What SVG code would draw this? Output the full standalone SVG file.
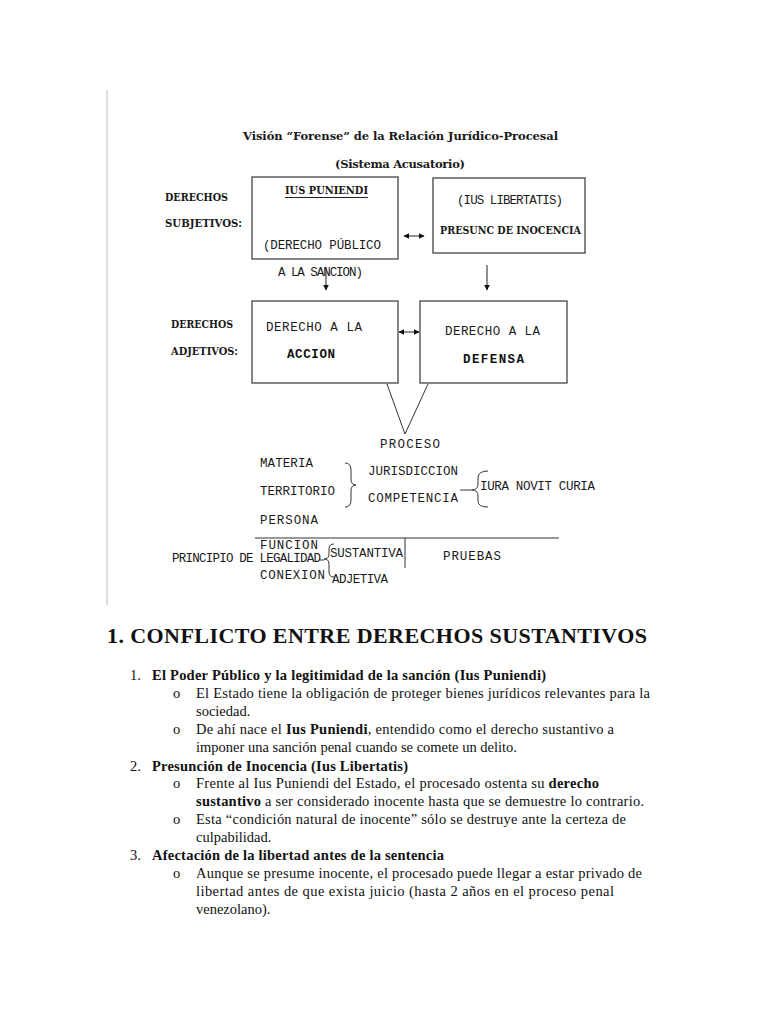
<svg xmlns="http://www.w3.org/2000/svg" width="768" height="1024" viewBox="0 0 768 1024">
<defs>
<marker id="ah" viewBox="0 0 10 10" refX="9" refY="5" markerWidth="6" markerHeight="6" orient="auto-start-reverse" markerUnits="userSpaceOnUse">
<path d="M0,0 L10,5 L0,10 z" fill="#111"/>
</marker>
<style>
.bx{fill:#fff;stroke:#444;stroke-width:1.3}
.ln{fill:none;stroke:#333;stroke-width:1}
.cn{fill:none;stroke:#222;stroke-width:1}
.hd{font-family:"DejaVu Serif","Liberation Serif",serif;font-weight:bold;font-size:11.5px;fill:#1a1a1a}
.lb{font-family:"DejaVu Serif","Liberation Serif",serif;font-weight:bold;font-size:10.5px;fill:#1a1a1a}
.mn{font-family:"Liberation Mono","DejaVu Sans Mono",monospace;font-size:12.5px;fill:#1a1a1a}
.mb{font-family:"Liberation Mono","DejaVu Sans Mono",monospace;font-size:12.5px;font-weight:bold;fill:#111}
.tx{font-family:"Liberation Serif","Times New Roman",serif;font-size:14.5px;fill:#111}
.h1{font-family:"Liberation Serif","Times New Roman",serif;font-size:22px;font-weight:bold;fill:#111}
.b{font-weight:bold}
</style>
</defs>
<rect width="768" height="1024" fill="#fff"/>
<line x1="107" y1="90" x2="107" y2="605" stroke="#dcdcdc" stroke-width="2"/>

<g id="title">
<text class="hd" x="243" y="140" textLength="315">Visión “Forense” de la Relación Jurídico-Procesal</text>
<text class="hd" x="335" y="168" textLength="130">(Sistema Acusatorio)</text>
</g>

<g id="lbl-subjetivos">
<text class="lb" x="165" y="201" textLength="63" lengthAdjust="spacingAndGlyphs">DERECHOS</text>
<text class="lb" x="165" y="227" textLength="77" lengthAdjust="spacingAndGlyphs">SUBJETIVOS:</text>
</g>
<g id="lbl-adjetivos">
<text class="lb" x="171" y="328" textLength="62" lengthAdjust="spacingAndGlyphs">DERECHOS</text>
<text class="lb" x="171" y="355" textLength="67" lengthAdjust="spacingAndGlyphs">ADJETIVOS:</text>
</g>

<g id="node-ius-puniendi">
<rect class="bx" x="252" y="177" width="146" height="82"/>
<text class="lb" x="285" y="194" textLength="83" lengthAdjust="spacingAndGlyphs">IUS PUNIENDI</text>
<line x1="285" y1="197.5" x2="368" y2="197.5" stroke="#222" stroke-width="1"/>
<text class="mn" x="263" y="249" textLength="118">(DERECHO  PÚBLICO</text>
<text class="mn" x="278" y="276" textLength="85">A LA SANCION)</text>
</g>

<g id="node-ius-libertatis">
<rect class="bx" x="433" y="178" width="152" height="75"/>
<text class="mn" x="457" y="204" textLength="106">(IUS LIBERTATIS)</text>
<text class="lb" x="440" y="234" textLength="141" lengthAdjust="spacingAndGlyphs">PRESUNC DE INOCENCIA</text>
</g>

<g id="node-accion">
<rect class="bx" x="252" y="301" width="146" height="82"/>
<text class="mn" x="266" y="331" textLength="96">DERECHO A LA</text>
<text class="mb" x="287" y="358" textLength="48">ACCION</text>
</g>

<g id="node-defensa">
<rect class="bx" x="420" y="301" width="147" height="82"/>
<text class="mn" x="445" y="335" textLength="95">DERECHO A LA</text>
<text class="mb" x="463" y="363" textLength="61">DEFENSA</text>
</g>

<g id="node-proceso">
<text class="mn" x="380" y="448" textLength="60">PROCESO</text>
</g>

<g id="node-criterios">
<text class="mn" x="260" y="467" textLength="53">MATERIA</text>
<text class="mn" x="260" y="495" textLength="75">TERRITORIO</text>
<text class="mn" x="260" y="524" textLength="58">PERSONA</text>
</g>

<g id="node-jurisdiccion">
<text class="mn" x="368" y="475" textLength="90">JURISDICCION</text>
<text class="mn" x="368" y="502" textLength="90">COMPETENCIA</text>
</g>

<g id="node-iura">
<text class="mn" x="480" y="490" textLength="115">IURA NOVIT CURIA</text>
</g>

<g id="node-legalidad">
<text class="mn" x="260" y="549" textLength="58">FUNCION</text>
<text class="mn" x="172" y="562" textLength="149">PRINCIPIO DE LEGALIDAD</text>
<text class="mn" x="260" y="579" textLength="65">CONEXION</text>
<text class="mn" x="330" y="557" textLength="73">SUSTANTIVA</text>
<text class="mn" x="332" y="583" textLength="56">ADJETIVA</text>
</g>

<g id="node-pruebas">
<text class="mn" x="443" y="560" textLength="58">PRUEBAS</text>
</g>

<g id="connectors">
<line class="cn" x1="404" y1="236" x2="424" y2="236" marker-start="url(#ah)" marker-end="url(#ah)"/>
<line class="cn" x1="326" y1="267" x2="326" y2="290" marker-end="url(#ah)"/>
<line class="cn" x1="487" y1="265" x2="487" y2="290" marker-end="url(#ah)"/>
<line class="cn" x1="399" y1="332" x2="419" y2="332" marker-start="url(#ah)" marker-end="url(#ah)"/>
<path class="ln" d="M387,384 L405,434 L428,384"/>
<path class="ln" d="M345,463 Q351,463 351,470 L351,479 Q351,485 356,485 Q351,485 351,491 L351,500 Q351,507 345,507"/>
<path class="ln" d="M460,490 L472,490"/>
<path class="ln" d="M488,471 Q478,471 478,478 L478,484 Q478,490 472,490 Q478,490 478,496 L478,501 Q478,507 488,507"/>
<path class="ln" d="M255,538 L559,538"/>
<path class="ln" d="M405,538 L405,568"/>
<path class="ln" d="M320,560 L324,560"/>
<path class="ln" d="M334,544 Q329,544 329,549 L329,554 Q329,559 324,559 Q329,559 329,564 L329,572 Q329,577 334,577"/>
</g>

<g id="text-body">
<text class="h1" x="107" y="643" textLength="540">1. CONFLICTO ENTRE DERECHOS SUSTANTIVOS</text>
<text class="tx" x="130" y="680">1.</text>
<text class="tx b" x="152" y="680" textLength="394">El Poder Público y la legitimidad de la sanción (Ius Puniendi)</text>
<text class="tx" x="173" y="698">o</text>
<text class="tx" x="196" y="698" textLength="454">El Estado tiene la obligación de proteger bienes jurídicos relevantes para la</text>
<text class="tx" x="196" y="716">sociedad.</text>
<text class="tx" x="173" y="734">o</text>
<text class="tx" x="196" y="734" textLength="418">De ahí nace el <tspan class="b">Ius Puniendi</tspan>, entendido como el derecho sustantivo a</text>
<text class="tx" x="196" y="752">imponer una sanción penal cuando se comete un delito.</text>
<text class="tx" x="130" y="771">2.</text>
<text class="tx b" x="152" y="771" textLength="256">Presunción de Inocencia (Ius Libertatis)</text>
<text class="tx" x="173" y="788">o</text>
<text class="tx" x="196" y="788" textLength="403">Frente al Ius Puniendi del Estado, el procesado ostenta su <tspan class="b">derecho</tspan></text>
<text class="tx" x="196" y="806" textLength="448"><tspan class="b">sustantivo</tspan> a ser considerado inocente hasta que se demuestre lo contrario.</text>
<text class="tx" x="173" y="824">o</text>
<text class="tx" x="196" y="824" textLength="430">Esta “condición natural de inocente” sólo se destruye ante la certeza de</text>
<text class="tx" x="196" y="842">culpabilidad.</text>
<text class="tx" x="130" y="860">3.</text>
<text class="tx b" x="152" y="860" textLength="292">Afectación de la libertad antes de la sentencia</text>
<text class="tx" x="173" y="878">o</text>
<text class="tx" x="196" y="878" textLength="446">Aunque se presume inocente, el procesado puede llegar a estar privado de</text>
<text class="tx" x="196" y="896" textLength="418">libertad antes de que exista juicio (hasta 2 años en el proceso penal</text>
<text class="tx" x="196" y="914">venezolano).</text>
</g>
</svg>
